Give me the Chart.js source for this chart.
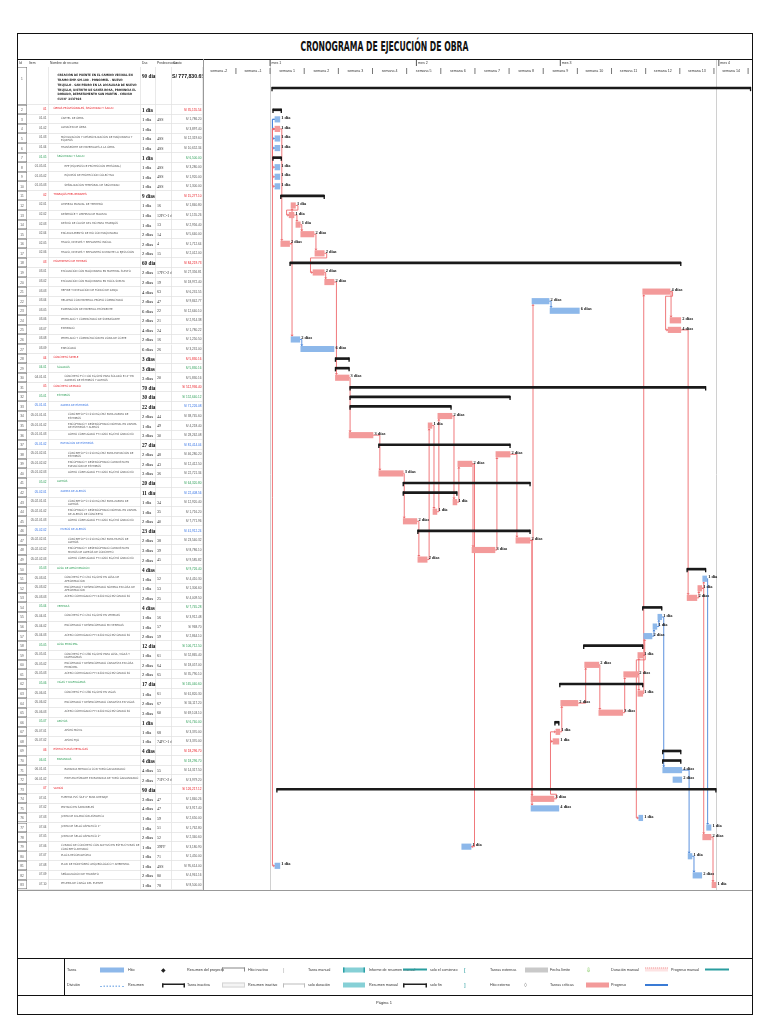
<!DOCTYPE html>
<html lang="es">
<head>
<meta charset="utf-8">
<title>Cronograma de ejecución de obra</title>
<script src="https://cdn.jsdelivr.net/npm/chart.js@4.4.1/dist/chart.umd.min.js"></script>
<style>
  body { margin:0; width:768px; height:1024px; position:relative; overflow:hidden; background:#fff;
         font-family:"Liberation Sans", Arial, sans-serif; color:#222; }
  .abs { position:absolute; }
  .hl { position:absolute; height:0; border-top:1.5px solid #111; }
  .vl { position:absolute; width:0; border-left:1.5px solid #111; }
  #title { top:37px; left:0; width:768px; text-align:center; }
  #title span { display:inline-block; font-family:"Liberation Sans Narrow","Arial Narrow","DejaVu Sans Condensed",sans-serif;
                font-weight:bold; font-size:14px; transform-origin:center; color:#111; }
  /* texto diminuto: todo se maqueta al doble y se reduce a la mitad */
  #mini { position:absolute; left:0; top:0; width:1536px; height:2048px; transform:scale(0.5); transform-origin:0 0; }
  .fila { position:absolute; left:34px; width:372px; box-sizing:border-box; border-bottom:1.4px solid #d2d2d2; }
  .c { position:absolute; top:0; height:100%; box-sizing:border-box; border-right:1.4px solid #d2d2d2;
       overflow:hidden; white-space:nowrap; color:#555; }
  .id { left:0; width:20px; text-align:center; border:1.6px solid #666; font-size:6.4px; padding-top:5px; }
  .item { left:20px; width:44px; text-align:right; padding-right:4px; font-size:6px; padding-top:4px; }
  .nom { left:64px; width:184px; white-space:normal; font-family:"Liberation Sans Narrow","DejaVu Sans Condensed",sans-serif;
         font-size:5.8px; line-height:6.8px; padding-top:3px; padding-right:2px; }
  .dur { left:248px; width:30px; padding-left:2px; font-family:"Liberation Serif",serif; font-size:9.4px; color:#111; padding-top:5px; }
  .pre { left:278px; width:32px; padding-left:2px; font-family:"Liberation Serif",serif; font-size:8px; color:#333; padding-top:5.5px; }
  .cos { left:310px; width:62px; text-align:right; padding-right:2px; font-size:6.2px; padding-top:5px; }
  .hdr { position:absolute; top:121px; font-size:6.6px; color:#333; }
  #wrap { position:absolute; left:203px; top:59px; width:549px; height:831px; }
  .lg { position:absolute; font-size:7.4px; color:#333; white-space:nowrap; }
  .sym { position:absolute; box-sizing:border-box; }
</style>
</head>
<body>
<div id="title" class="abs"><span id="tt">CRONOGRAMA DE EJECUCIÓN DE OBRA</span></div>
<div id="wrap"><canvas id="gantt"></canvas></div>
<div id="mini">
  <div class="hdr" style="left:38px">Id</div>
  <div class="hdr" style="left:58px">Item</div>
  <div class="hdr" style="left:100px">Nombre de recurso</div>
  <div class="hdr" style="left:284px">Dur.</div>
  <div class="hdr" style="left:314px">Predecesoras</div>
  <div class="hdr" style="left:346px">Costo</div>
  <div id="tabla"></div>
  <div id="leyenda"></div>
  <div class="abs" style="left:0;width:1536px;top:2000px;text-align:center;font-size:8px;color:#333">Página 1</div>
</div>

<!-- marco -->
<div class="hl" style="left:17px;width:735px;top:33px"></div>
<div class="hl" style="left:17px;width:735px;top:59px"></div>
<div class="abs" style="left:17px;width:735px;top:890px;border-top:1px solid #999"></div>
<div class="hl" style="left:17px;width:735px;top:958px"></div>
<div class="hl" style="left:17px;width:735px;top:995px"></div>
<div class="hl" style="left:17px;width:736px;top:1014px"></div>
<div class="vl" style="left:17px;top:33px;height:982px"></div>
<div class="vl" style="left:752px;top:33px;height:982px"></div>
<div class="vl" style="left:64px;top:958px;height:37px;border-left-width:1px"></div>
<div class="abs" style="left:203px;top:59px;height:831px;border-left:1px solid #999"></div>

<script>
// ---- datos del cronograma (fila 1 = proyecto) ----
const items = ['',
  '01','01.01','01.02','01.03','01.04','01.05','01.05.01','01.05.02','01.05.03',
  '02','02.01','02.02','02.03','02.04','02.05','02.06',
  '03','03.01','03.02','03.03','03.04','03.05','03.06','03.07','03.08','03.09',
  '04','04.01','04.01.01',
  '05','05.01','05.01.01','05.01.01.01','05.01.01.02','05.01.01.03',
  '05.01.02','05.01.02.01','05.01.02.02','05.01.02.03',
  '05.02','05.02.01','05.02.01.01','05.02.01.02','05.02.01.03',
  '05.02.02','05.02.02.01','05.02.02.02','05.02.02.03',
  '05.03','05.03.01','05.03.02','05.03.03',
  '05.04','05.04.01','05.04.02','05.04.03',
  '05.05','05.05.01','05.05.02','05.05.03',
  '05.06','05.06.01','05.06.02','05.06.03',
  '05.07','05.07.01','05.07.02',
  '06','06.01','06.01.01','06.01.02',
  '07','07.01','07.02','07.03','07.04','07.05','07.06','07.07','07.08','07.09','07.10'];

const names = [
  'CREACIÓN DE PUENTE EN EL CAMINO VECINAL EN TRAMO EMP. SM-100 - PONGOMEL - NUEVO TRUJILLO - SAN PEDRO EN LA LOCALIDAD DE NUEVO TRUJILLO, DISTRITO DE SANTA ROSA, PROVINCIA EL DORADO, DEPARTAMENTO SAN MARTIN - CÓDIGO CUI N° 2437916',
  'OBRAS PROVISIONALES, SEGURIDAD Y SALUD','CARTEL DE OBRA','ALMACEN DE OBRA',
  'MOVILIZACION Y DESMOVILIZACION DE MAQUINARIA Y EQUIPOS','TRANSPORTE DE MATERIALES A LA OBRA',
  'SEGURIDAD Y SALUD','EPP (EQUIPOS DE PROTECCION PERSONAL)','EQUIPOS DE PROTECCION COLECTIVA',
  'SEÑALIZACION TEMPORAL DE SEGURIDAD',
  'TRABAJOS PRELIMINARES','LIMPIEZA MANUAL DE TERRENO','DESBROCE Y LIMPIEZA DE MALEZA',
  'DESVIO DE CAUCE DEL RIO PARA TRABAJOS','ENCAUZAMIENTO DE RIO CON MAQUINARIA',
  'TRAZO, NIVELES Y REPLANTEO INICIAL','TRAZO, NIVELES Y REPLANTEO DURANTE LA EJECUCION',
  'MOVIMIENTO DE TIERRAS','EXCAVACION CON MAQUINARIA EN MATERIAL SUELTO','EXCAVACION CON MAQUINARIA EN ROCA SUELTA',
  'REFINE Y NIVELACION DE FONDO DE ZANJA','RELLENO CON MATERIAL PROPIO COMPACTADO',
  'ELIMINACION DE MATERIAL EXCEDENTE','PERFILADO Y COMPACTADO DE SUBRASANTE','ENTIBADO',
  'PERFILADO Y COMPACTACION EN ZONA DE CORTE','ENROCADO',
  'CONCRETO SIMPLE','SOLADOS','CONCRETO F\'C=100 KG/CM2 PARA SOLADO E=4" EN ZAPATAS DE ESTRIBOS Y ALEROS',
  'CONCRETO ARMADO','ESTRIBOS','ZAPATA DE ESTRIBOS','CONCRETO F\'C=210 KG/CM2 PARA ZAPATA DE ESTRIBOS',
  'ENCOFRADO Y DESENCOFRADO NORMAL EN ZAPATA DE ESTRIBOS Y ALEROS','ACERO CORRUGADO FY=4200 KG/CM2 GRADO 60',
  'ELEVACION DE ESTRIBOS','CONCRETO F\'C=210 KG/CM2 PARA ELEVACION DE ESTRIBOS',
  'ENCOFRADO Y DESENCOFRADO CARAVISTA EN ELEVACION DE ESTRIBOS','ACERO CORRUGADO FY=4200 KG/CM2 GRADO 60',
  'ALEROS','ZAPATA DE ALEROS','CONCRETO F\'C=210 KG/CM2 PARA ZAPATA DE ALEROS',
  'ENCOFRADO Y DESENCOFRADO NORMAL EN ZAPATA DE ALEROS DE CONCRETO','ACERO CORRUGADO FY=4200 KG/CM2 GRADO 60',
  'MUROS DE ALEROS','CONCRETO F\'C=210 KG/CM2 PARA MUROS DE ALEROS',
  'ENCOFRADO Y DESENCOFRADO CARAVISTA EN MUROS DE ALEROS DE CONCRETO','ACERO CORRUGADO FY=4200 KG/CM2 GRADO 60',
  'LOSA DE APROXIMACION','CONCRETO F\'C=210 KG/CM2 EN LOSA DE APROXIMACION',
  'ENCOFRADO Y DESENCOFRADO NORMAL EN LOSA DE APROXIMACION','ACERO CORRUGADO FY=4200 KG/CM2 GRADO 60',
  'VEREDAS','CONCRETO F\'C=210 KG/CM2 EN VEREDAS','ENCOFRADO Y DESENCOFRADO EN VEREDAS',
  'ACERO CORRUGADO FY=4200 KG/CM2 GRADO 60',
  'LOSA PRINCIPAL','CONCRETO F\'C=280 KG/CM2 PARA LOSA, VIGAS Y DIAFRAGMAS',
  'ENCOFRADO Y DESENCOFRADO CARAVISTA EN LOSA PRINCIPAL','ACERO CORRUGADO FY=4200 KG/CM2 GRADO 60',
  'VIGAS Y DIAFRAGMAS','CONCRETO F\'C=280 KG/CM2 EN VIGAS','ENCOFRADO Y DESENCOFRADO CARAVISTA EN VIGAS',
  'ACERO CORRUGADO FY=4200 KG/CM2 GRADO 60',
  'APOYOS','APOYO MOVIL','APOYO FIJO',
  'ESTRUCTURAS METALICAS','BARANDAS','BARANDA METALICA CON TUBO GALVANIZADO',
  'PINTURA ESMALTE EN BARANDA DE TUBO GALVANIZADO',
  'VARIOS','TUBERIA PVC SAP 4" PARA DRENAJE','PINTADO EN SARDINELES','JUNTA DE DILATACION ASFALTICA',
  'JUNTA DE SELLO ASFALTICO 1"','JUNTA DE SELLO ASFALTICO 2"',
  'CURADO DE CONCRETO CON ADITIVO EN ESTRUCTURAS DE CONCRETO ARMADO','PLACA RECORDATORIA',
  'PLAN DE MONITOREO ARQUEOLOGICO Y AMBIENTAL','SEÑALIZACION DE TRANSITO','PRUEBA DE CARGA DEL PUENTE'];

const durations = ['90 días',
  '1 día','1 día','1 día','1 día','1 día','1 día','1 día','1 día','1 día',
  '9 días','1 día','1 día','1 día','2 días','2 días','2 días',
  '60 días','2 días','2 días','4 días','2 días','6 días','2 días','4 días','2 días','6 días',
  '3 días','3 días','3 días',
  '70 días','30 días','22 días','2 días','1 día','3 días',
  '27 días','2 días','2 días','3 días',
  '20 días','11 días','1 día','1 día','2 días',
  '23 días','2 días','3 días','2 días',
  '4 días','1 día','1 día','2 días',
  '4 días','1 día','1 día','2 días',
  '12 días','1 día','2 días','2 días',
  '17 días','1 día','2 días','3 días',
  '1 día','1 día','1 día',
  '4 días','4 días','4 días','2 días',
  '90 días','3 días','4 días','1 día','1 día','2 días','1 día','1 día','1 día','2 días','1 día'];

const predecessors = ['',
  '','4SS','','4SS','4SS','','4SS','4SS','4SS',
  '','16','12FC-1 día','13','14','4','15',
  '','17FC-2 días','19','63','47','22','21','24','16','26',
  '','','20',
  '','','','44','49','30',
  '','48','43','36',
  '','','34','35','40',
  '','38','39','45',
  '','52','53','25',
  '','56','57','59',
  '','61','64','65',
  '','61','67','60',
  '','68','74FC-1 día',
  '','','55','71FC-2 días',
  '','47','47','59','51','52','39FF','71','4SS','80','78'];

const costs = ['S/ 777,830.65',
  'S/ 35,155.54','S/ 1,786.20','S/ 3,897.40','S/ 12,319.60','S/ 10,652.34','S/ 6,500.00','S/ 3,280.00','S/ 1,920.00','S/ 1,300.00',
  'S/ 15,277.10','S/ 1,840.80','S/ 1,155.26','S/ 2,956.40','S/ 5,640.00','S/ 1,712.64','S/ 2,012.00',
  'S/ 84,219.73','S/ 27,356.81','S/ 18,972.40','S/ 6,231.55','S/ 9,842.77','S/ 12,640.10','S/ 2,914.38','S/ 1,780.22','S/ 1,250.50','S/ 3,231.00',
  'S/ 5,830.16','S/ 5,830.16','S/ 5,830.16',
  'S/ 512,936.40','S/ 152,640.12','S/ 71,226.08','S/ 38,745.60','S/ 4,218.40','S/ 28,262.08',
  'S/ 81,414.04','S/ 46,280.20','S/ 12,412.50','S/ 22,721.34',
  'S/ 64,320.80','S/ 22,408.56','S/ 12,920.40','S/ 1,716.20','S/ 7,771.96',
  'S/ 41,912.24','S/ 23,540.32','S/ 8,786.10','S/ 9,585.82',
  'S/ 9,726.40','S/ 4,410.30','S/ 1,306.60','S/ 4,009.50',
  'S/ 7,745.28','S/ 3,912.48','S/ 968.70','S/ 2,864.10',
  'S/ 106,712.50','S/ 52,865.40','S/ 18,057.00','S/ 35,790.10',
  'S/ 165,040.60','S/ 61,820.30','S/ 34,117.20','S/ 69,103.10',
  'S/ 6,740.00','S/ 3,370.00','S/ 3,370.00',
  'S/ 18,296.70','S/ 18,296.70','S/ 14,317.50','S/ 3,979.20',
  'S/ 126,217.12','S/ 1,840.26','S/ 3,917.40','S/ 2,650.00','S/ 1,762.80','S/ 2,340.60','S/ 3,180.90','S/ 1,450.00','S/ 95,614.00','S/ 4,961.16','S/ 8,500.00'];

// comienzo y fin en días desde el inicio de obra
const starts = [0.4,
  0.6, 1, 1, 1, 1, 0.6, 1, 1, 1,
  2.2, 4.3, 3.9, 5.3, 6.3, 2.2, 9.2,
  4.1, 8.8, 11.2, 76.4, 53.7, 57.4, 82.0, 81.6, 4.3, 6.3,
  13.4, 13.4, 13.4,
  16.4, 16.4, 16.4, 34.4, 32.4, 16.2,
  22.3, 46.3, 38.5, 22.3,
  27.3, 27.3, 37.5, 33.4, 27.3,
  30.3, 50.4, 41.4, 30.3,
  85.5, 88.7, 87.7, 85.5,
  76.4, 79.5, 78.5, 76.6,
  64.3, 75.4, 64.5, 72.5,
  59.4, 75.4, 59.6, 67.4,
  58.4, 58.6, 58.0,
  80.5, 80.5, 80.5, 82.6,
  1.4, 53.5, 53.5, 75.6, 89.5, 88.7, 39.3, 85.7, 1.0, 86.7, 90.6];
const finishes = [98.5,
  2.3, 2, 2, 2, 2, 2.3, 2, 2, 2,
  11.1, 5.2, 4.9, 6.2, 9.0, 4.0, 11.1,
  84.2, 11.1, 13.1, 82.0, 57.2, 63.4, 84.2, 84.2, 6.1, 13.1,
  16.2, 16.2, 16.2,
  89.3, 49.2, 37.1, 37.3, 33.2, 21.1,
  49.2, 49.2, 41.4, 27.3,
  53.3, 38.3, 38.3, 34.2, 30.1,
  53.3, 53.3, 46.1, 32.2,
  89.3, 89.5, 88.5, 87.5,
  80.3, 80.3, 79.3, 78.3,
  76.4, 76.4, 67.4, 75.4,
  76.4, 76.4, 63.1, 72.3,
  59.2, 59.4, 59.2,
  84.2, 84.2, 84.4, 84.4,
  91.4, 58.2, 59.2, 76.4, 90.4, 90.4, 41.2, 86.5, 2.0, 88.5, 91.4];
// s = resumen, c = tarea crítica, n = tarea no crítica
const kinds = ['s',
  's','n','c','n','n','s','n','n','n',
  's','c','c','c','c','c','c',
  's','c','c','c','n','n','c','c','n','n',
  's','s','c',
  's','s','s','c','c','c',
  's','c','c','c',
  's','s','c','c','c',
  's','c','c','c',
  's','n','c','c',
  's','n','n','n',
  's','c','c','c',
  's','c','c','c',
  's','c','c',
  's','s','n','n',
  's','c','n','n','n','c','n','n','n','n','c'];

// vínculos [predecesora, sucesora, tipo]
const links = [
  [3,4,'SS'],[3,5,'SS'],[3,6,'SS'],[4,8,'SS'],[4,9,'SS'],[4,10,'SS'],[4,81,'SS'],
  [4,16,'FS'],[16,12,'FS'],[12,13,'FS'],[13,14,'FS'],[14,15,'FS'],[15,17,'FS'],[17,19,'FS'],[19,20,'FS'],
  [16,26,'FS'],[26,27,'FS'],[20,30,'FS'],[30,36,'FS'],[36,40,'FS'],[40,45,'FS'],[45,49,'FS'],
  [49,35,'FS'],[35,44,'FS'],[44,34,'FS'],[34,43,'FS'],[43,39,'FS'],[39,48,'FS'],[39,79,'FF'],
  [48,38,'FS'],[38,47,'FS'],[47,74,'FS'],[47,75,'FS'],[47,22,'FS'],[22,23,'FS'],
  [74,68,'FS'],[68,67,'SS'],[67,64,'FS'],[64,60,'FS'],[60,65,'FS'],[65,61,'FS'],[61,59,'FS'],[61,63,'FS'],
  [59,57,'FS'],[59,76,'FS'],[63,21,'FS'],[57,56,'FS'],[56,55,'FS'],[55,71,'FS'],[71,80,'FS'],[80,82,'FS'],
  [21,24,'FS'],[21,25,'FS'],[25,53,'FS'],[53,52,'FS'],[52,51,'FS'],[52,78,'FS'],[51,77,'FS'],[78,83,'FS']];

const weekLabels = ['semana -2','semana -1','semana 1','semana 2','semana 3','semana 4','semana 5','semana 6',
  'semana 7','semana 8','semana 9','semana 10','semana 11','semana 12','semana 13','semana 14'];
const monthLabels = ['mes 1','mes 2','mes 3','mes 4'];
const monthStarts = [0, 30, 59.5, 92];
const projectEnd = 91.4;

// ---- disposición ----
const ROW_H = 9.57;
const Y_MAX = (890 - 76) / ROW_H;
function rowCenter(i) { return i === 0 ? 1.25 : i + 2.53; }
const RED = '#f39a9a', BLUE = '#8db8ea', LINK_RED = '#ee6a6d', LINK_BLUE = '#4a86da';

// tabla izquierda (coordenadas al doble dentro de #mini)
const tabla = document.getElementById('tabla');
items.forEach((it, i) => {
  const top = i === 0 ? 67 : 105 + (i - 1) * ROW_H;
  const h = i === 0 ? 38 : ROW_H;
  const fila = document.createElement('div');
  fila.className = 'fila';
  fila.style.top = (2 * top) + 'px';
  fila.style.height = (2 * h) + 'px';
  const level = it ? it.split('.').length - 1 : 0;
  const summary = kinds[i] === 's' && i > 0;
  const color = summary ? ['#e8161e', '#2a9d55', '#2f6fe4'][Math.min(level, 2)] : (i === 0 ? '#111' : '#555');
  const cells = [
    ['id', String(i + 1)], ['item', it], ['nom', names[i]],
    ['dur', durations[i]], ['pre', predecessors[i]], ['cos', costs[i]]
  ];
  cells.forEach(([cls, txt]) => {
    const c = document.createElement('div');
    c.className = 'c ' + cls;
    c.textContent = txt;
    if (cls === 'item' || cls === 'nom' || cls === 'cos') c.style.color = color;
    if (cls === 'nom') c.style.paddingLeft = (summary ? 9 + 7 * level : 17 + 7 * level) + 'px';
    if (summary && cls === 'dur') { c.style.fontWeight = 'bold'; c.style.fontSize = '10.4px'; }
    if (i === 0) {
      if (cls === 'id') c.style.paddingTop = '18px';
      if (cls === 'nom') { c.style.paddingTop = '11px'; c.style.lineHeight = '9.6px'; c.style.fontSize = '6px';
                           c.style.paddingRight = '8px'; c.style.color = '#222'; c.style.fontWeight = 'bold'; }
      if (cls === 'dur' || cls === 'cos') { c.style.fontWeight = 'bold'; c.style.fontSize = '10.4px'; c.style.color = '#111'; c.style.paddingTop = '12px'; }
    }
    fila.appendChild(c);
  });
  tabla.appendChild(fila);
});

// título ajustado al ancho del original
const tt = document.getElementById('tt');
tt.style.transform = 'scaleX(' + (168 / tt.offsetWidth) + ')';

// ---- gráfico de Gantt ----
const sumData = [], critData = [], normData = [];
starts.forEach((s, i) => {
  const pt = { x: [s, finishes[i]], y: rowCenter(i), row: i };
  if (kinds[i] === 's') sumData.push(pt);
  else if (kinds[i] === 'c') critData.push(pt);
  else normData.push(pt);
});

const ganttDecor = {
  id: 'ganttDecor',
  beforeDatasetsDraw(chart) {
    const { ctx, chartArea, scales: { x, y } } = chart;
    ctx.save();
    // líneas de inicio y fin de proyecto
    ctx.strokeStyle = '#d0d0d0';
    ctx.lineWidth = 1;
    [0, projectEnd].forEach(d => {
      const px = Math.round(x.getPixelForValue(d)) + 0.5;
      ctx.beginPath(); ctx.moveTo(px, chartArea.top - 17); ctx.lineTo(px, chartArea.bottom); ctx.stroke();
    });
    // escala de tiempo: meses
    ctx.fillStyle = '#333';
    ctx.font = '3.6px "Liberation Sans", Arial';
    ctx.textBaseline = 'middle';
    ctx.strokeStyle = '#555';
    monthLabels.forEach((m, k) => {
      const px = x.getPixelForValue(monthStarts[k]);
      ctx.beginPath(); ctx.moveTo(px, 1); ctx.lineTo(px, 7); ctx.stroke();
      ctx.textAlign = 'left';
      ctx.fillText(m, px + 1.5, 4);
    });
    // semanas
    ctx.textAlign = 'center';
    weekLabels.forEach((w, k) => {
      const d0 = (k - 2) * 7;
      const cx = x.getPixelForValue(d0 + 3.5);
      ctx.fillText(w, cx, 12);
      const px = x.getPixelForValue(d0 + 7);
      ctx.strokeStyle = '#777';
      ctx.beginPath(); ctx.moveTo(px, 9); ctx.lineTo(px, 15); ctx.stroke();
    });
    // vínculos entre tareas
    ctx.lineWidth = 0.9;
    links.forEach(([a, b, type]) => {
      const i = a - 1, j = b - 1;
      const sx = x.getPixelForValue(type === 'SS' ? starts[i] : finishes[i]);
      const tx = x.getPixelForValue(type === 'FF' ? finishes[j] : starts[j]);
      const sy = y.getPixelForValue(rowCenter(i));
      const ty = y.getPixelForValue(rowCenter(j));
      const col = kinds[i] === 'c' ? LINK_RED : LINK_BLUE;
      ctx.strokeStyle = col;
      ctx.fillStyle = col;
      ctx.beginPath();
      ctx.moveTo(sx, sy);
      let ax, ay, dir;
      if (type === 'SS') {
        const vx = Math.min(sx, tx) - 2.5;
        ctx.lineTo(vx, sy); ctx.lineTo(vx, ty); ctx.lineTo(tx, ty);
        ax = tx; ay = ty; dir = 'r';
      } else if (type === 'FF') {
        const vx = Math.max(sx, tx) + 2.5;
        ctx.lineTo(vx, sy); ctx.lineTo(vx, ty); ctx.lineTo(tx, ty);
        ax = tx; ay = ty; dir = 'l';
      } else if (tx >= sx - 0.5) {
        const vx = Math.max(tx, sx) + 1;
        const down = ty > sy;
        const ey = down ? ty - 3 : ty + 3;
        ctx.lineTo(vx, sy); ctx.lineTo(vx, ey);
        ax = vx; ay = ey; dir = down ? 'd' : 'u';
      } else {
        const my = sy + (ty > sy ? 4.6 : -4.6);
        ctx.lineTo(sx + 2.5, sy); ctx.lineTo(sx + 2.5, my); ctx.lineTo(tx - 2.5, my);
        ctx.lineTo(tx - 2.5, ty); ctx.lineTo(tx, ty);
        ax = tx; ay = ty; dir = 'r';
      }
      ctx.stroke();
      ctx.beginPath();
      const s = 1.6;
      if (dir === 'r') { ctx.moveTo(ax, ay); ctx.lineTo(ax - s, ay - s); ctx.lineTo(ax - s, ay + s); }
      if (dir === 'l') { ctx.moveTo(ax, ay); ctx.lineTo(ax + s, ay - s); ctx.lineTo(ax + s, ay + s); }
      if (dir === 'd') { ctx.moveTo(ax, ay); ctx.lineTo(ax - s, ay - s); ctx.lineTo(ax + s, ay - s); }
      if (dir === 'u') { ctx.moveTo(ax, ay); ctx.lineTo(ax - s, ay + s); ctx.lineTo(ax + s, ay + s); }
      ctx.closePath();
      ctx.fill();
    });
    ctx.restore();
  },
  afterDatasetsDraw(chart) {
    const { ctx, scales: { x, y } } = chart;
    ctx.save();
    // extremos de las barras de resumen
    ctx.strokeStyle = '#111';
    ctx.lineWidth = 1.3;
    starts.forEach((s, i) => {
      if (kinds[i] !== 's') return;
      const yc = y.getPixelForValue(rowCenter(i));
      [s, finishes[i]].forEach(d => {
        const px = x.getPixelForValue(d);
        ctx.beginPath(); ctx.moveTo(px, yc - 1); ctx.lineTo(px, yc + 3.2); ctx.stroke();
      });
    });
    // duración junto a cada tarea
    ctx.fillStyle = '#111';
    ctx.font = 'bold 4.4px "Liberation Serif", serif';
    ctx.textAlign = 'left';
    ctx.textBaseline = 'middle';
    starts.forEach((s, i) => {
      if (kinds[i] === 's') return;
      ctx.fillText(durations[i], x.getPixelForValue(finishes[i]) + 1.5, y.getPixelForValue(rowCenter(i)) - 1.5);
    });
    ctx.restore();
  }
};

new Chart(document.getElementById('gantt'), {
  type: 'bar',
  data: {
    datasets: [
      { label: 'Resumen', data: sumData, backgroundColor: '#1a1a1a', barThickness: 2, grouped: false },
      { label: 'Tareas críticas', data: critData, backgroundColor: RED, barThickness: 5.5, grouped: false },
      { label: 'Tarea', data: normData, backgroundColor: BLUE, barThickness: 5.5, grouped: false }
    ]
  },
  options: {
    indexAxis: 'y',
    responsive: true,
    maintainAspectRatio: false,
    animation: false,
    layout: { padding: { top: 17, left: 0, right: 0, bottom: 0 } },
    scales: {
      x: { type: 'linear', min: -13.75, max: 98.8, display: false, offset: false },
      y: { type: 'linear', min: 0, max: Y_MAX, reverse: true, display: false, offset: false }
    },
    plugins: { legend: { display: false }, tooltip: { enabled: false } }
  },
  plugins: [ganttDecor]
});

// ---- leyenda de MS Project (coordenadas al doble) ----
const legendLabels = [
  ['Tarea', 67, 0], ['Hito', 128, 0], ['Resumen del proyecto', 187, 0], ['Hito inactivo', 248, 0],
  ['Tarea manual', 308, 0], ['Informe de resumen manual', 369, 0], ['solo el comienzo', 430, 0],
  ['Tareas externas', 490, 0], ['Fecha límite', 550, 0], ['Duración manual', 611, 0], ['Progreso manual', 671, 0],
  ['División', 67, 1], ['Resumen', 128, 1], ['Tarea inactiva', 187, 1], ['Resumen inactivo', 248, 1],
  ['solo duración', 308, 1], ['Resumen manual', 369, 1], ['solo fin', 430, 1], ['Hito externo', 490, 1],
  ['Tareas críticas', 550, 1], ['Progreso', 611, 1]];
const leyenda = document.getElementById('leyenda');
legendLabels.forEach(([t, lx, r]) => {
  const d = document.createElement('div');
  d.className = 'lg';
  d.textContent = t;
  d.style.left = (2 * lx) + 'px';
  d.style.top = (2 * (r ? 982.5 : 967.5)) + 'px';
  leyenda.appendChild(d);
});
const symbols = [
  [100, 0, 24, 5, 'background:#8db8ea'],
  [222, 0, 23, 4, 'border:2px solid #888;border-bottom:none'],
  [343, 0, 22, 5, 'background:#86d0d6;border-left:3px solid #2a9fa5;border-right:3px solid #2a9fa5'],
  [403, 1, 24, 2, 'background:#2a9d9f'],
  [525, 0, 23, 5, 'background:#c9c9c9'],
  [645, 0, 23, 4, 'background:#fde3e3;border-top:2px dotted #f3a0a0'],
  [705, 1, 24, 2, 'background:#2a9d9f'],
  [100, 1.6, 24, 3, 'border-bottom:3px dotted #8db8ea'],
  [162, 1, 23, 4, 'border:3px solid #222;border-bottom:none'],
  [222, 0, 23, 5, 'background:#f4f4f4;border:2px solid #d4d4d4'],
  [283, 1, 22, 4, 'border:2px solid #bbb;border-bottom:none'],
  [343, 0, 22, 5, 'background:#86d0d6'],
  [403, 1, 24, 4, 'border:3px solid #222;border-bottom:none'],
  [586, 0, 23, 5, 'background:#f39a9a'],
  [645, 1.5, 23, 2, 'background:#3a7bd5']];
symbols.forEach(([sx, dy, w, h, css], k) => {
  const d = document.createElement('div');
  d.className = 'sym';
  d.style.cssText = css;
  d.style.left = (2 * sx) + 'px';
  d.style.width = (2 * w) + 'px';
  d.style.height = (2 * h) + 'px';
  d.style.top = (2 * ((k < 7 ? 967.5 : 982.5) + dy)) + 'px';
  leyenda.appendChild(d);
});
[['◆', 161, 0, '#222'], ['|', 283, 0, '#aaa'], ['[', 464, 0, '#2a9d9f'], ['⇩', 586, 0, '#5cb82e'],
 [']', 464, 1, '#2a9d9f'], ['◊', 524, 1, '#999']].forEach(([g, lx, r, col]) => {
  const d = document.createElement('div');
  d.className = 'lg';
  d.textContent = g;
  d.style.cssText += ';font-size:12px;color:' + col;
  d.style.left = (2 * lx) + 'px';
  d.style.top = (2 * (r ? 981.5 : 966.5)) + 'px';
  leyenda.appendChild(d);
});
</script>
</body>
</html>
